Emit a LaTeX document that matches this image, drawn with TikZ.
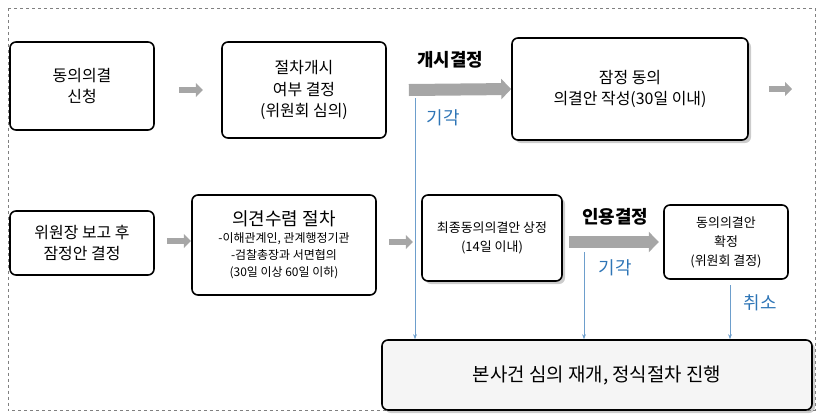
\documentclass[tikz,border=0pt]{standalone}
\usepackage{fontspec}
\setmainfont{Noto Sans CJK KR}
\usetikzlibrary{positioning,shadows,arrows.meta}
\definecolor{kblue}{RGB}{46,117,182}
\definecolor{arrgray}{RGB}{166,166,166}
\begin{document}
\begin{tikzpicture}
[
  x=1bp, y=-1bp,
  stagebox/.style={draw, rounded corners=6bp, line width=1.6pt, fill=white, align=center, font=\fontsize{16}{22}\selectfont},
  shadowbox/.style={stagebox, drop shadow={shadow xshift=3bp, shadow yshift=-3bp, opacity=0.4}},
  smallarrow/.style={-{Triangle[length=7bp,width=14bp]}, line width=6bp, arrgray},
  bigarrow/.style={-{Triangle[length=10bp,width=20bp]}, line width=12bp, arrgray},
  reject/.style={-{Stealth[length=5bp]}, kblue!70, line width=0.6pt},
  bluelabel/.style={text=kblue, font=\fontsize{18}{20}\selectfont},
  decision/.style={font=\bfseries\fontsize{18}{20}\selectfont}
]
 \useasboundingbox (0,0) rectangle (822,416);
 \draw[gray, dashed, line width=0.5pt] (8,8) rectangle (815,410);

 % first row
 \node[stagebox, minimum width=144bp, minimum height=88bp] (apply) at (82,86) {동의의결\\신청};
 \node[stagebox, minimum width=164bp, minimum height=96bp] (open) at (304,90) {절차개시\\여부 결정\\(위원회 심의)};
 \node[shadowbox, minimum width=236bp, minimum height=102bp] (draft) at (630,89) {잠정 동의\\의결안 작성(30일 이내)};
 \coordinate (out) at (792,89);
 \draw[smallarrow] (apply.east) ++(24,4) -- ++(24,0);
 \draw[bigarrow] (open.east) ++(22,0) -- (draft.west);
 \draw[smallarrow] (draft.east) ++(20,0) -- (out);
 \node[decision] (openok) at (450,60) {개시결정};
 \node[bluelabel] (rej1) at (443,118) {기각};

 % second row
 \node[stagebox, minimum width=144bp, minimum height=64bp] (report) at (82,243) {위원장 보고 후\\잠정안 결정};
 \node[stagebox, minimum width=184bp, minimum height=100bp, font=\fontsize{12}{17}\selectfont] (opinion) at (284,245)
   {{\fontsize{18}{24}\selectfont 의견수렴 절차}\\-이해관계인, 관계행정기관\\-검찰총장과 서면협의\\(30일 이상 60일 이하)};
 \node[shadowbox, minimum width=140bp, minimum height=86bp, font=\fontsize{13}{19}\selectfont] (final) at (492,238) {최종동의의결안 상정\\(14일 이내)};
 \node[stagebox, minimum width=124bp, minimum height=74bp, font=\fontsize{13}{19}\selectfont] (confirm) at (726,242) {동의의결안\\확정\\(위원회 결정)};
 \draw[smallarrow] (report.east) ++(12,-2) -- ++(24,0);
 \draw[smallarrow] (opinion.east) ++(12,-3) -- ++(24,0);
 \draw[bigarrow] (final.east) ++(6,4) -- ++(90,0);
 \node[decision] (accept) at (615,217) {인용결정};
 \node[bluelabel] (rej2) at (615,268) {기각};
 \node[bluelabel] (cancel) at (760,303) {취소};

 % bottom
 \node[shadowbox, fill=gray!8, minimum width=430bp, minimum height=70bp, font=\fontsize{19}{22}\selectfont] (resume) at (597,375) {본사건 심의 재개, 정식절차 진행};
 \coordinate (t1) at (415,98);
 \coordinate (t2) at (584,252);
 \coordinate (t3) at (730,285);
 \draw[reject] (t1) -- (t1 |- resume.north);
 \draw[reject] (t2) -- (t2 |- resume.north);
 \draw[reject] (t3) -- (t3 |- resume.north);
\end{tikzpicture}
\end{document}
